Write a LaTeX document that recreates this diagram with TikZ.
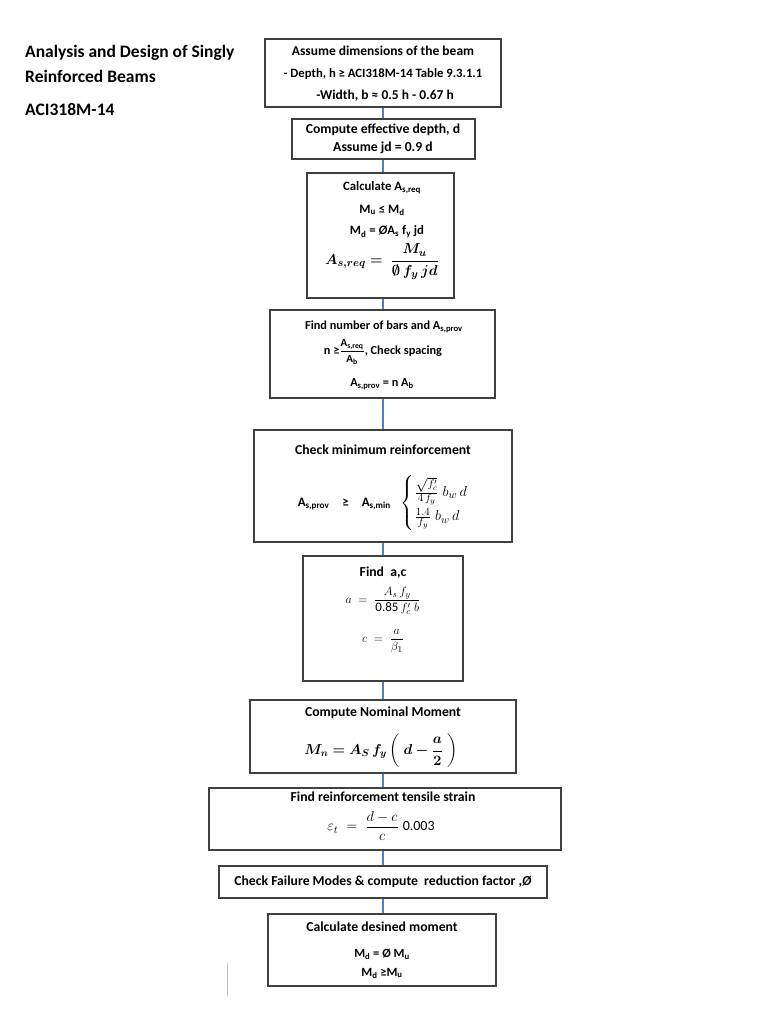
\documentclass[tikz,border=0pt]{standalone}
\usepackage{amsmath,amssymb,bm}
\usepackage[no-math]{fontspec}
\setmainfont{Carlito}
\definecolor{linkblue}{HTML}{4F81BD}
\definecolor{boxline}{HTML}{404040}
\newcommand{\fsz}[1]{\fontsize{#1}{#1}\selectfont}
\begin{document}
\begin{tikzpicture}[x=1pt,y=-1pt,
  box/.style={draw=boxline, line width=1.1pt, fill=white, inner sep=0pt},
  txt/.style={inner sep=0pt, anchor=center, font=\fsz{13.7}\bfseries},
  mth/.style={inner sep=0pt, anchor=center, font=\fsz{16}},
  ttl/.style={inner sep=0pt, anchor=west, font=\fsz{17.5}\bfseries},
  link/.style={draw=linkblue, line width=1.8pt},
  faint/.style={draw=black!25, line width=0.8pt}]
\useasboundingbox (0,0) rectangle (768,1024);
\coordinate (ax) at (383,0);

% title
\node[ttl] (title1) at (25,53) {Analysis and Design of Singly};
\node[ttl] (title2) at (25,76) {Reinforced Beams};
\node[ttl] (title3) at (25,110) {ACI318M-14};

% boxes
\node[box, minimum width=236pt, minimum height=68pt] (b1) at (383,73) {};
\node[box, minimum width=183pt, minimum height=40pt] (b2) at (383.5,139) {};
\node[box, minimum width=147pt, minimum height=125pt] (b3) at (380.5,235.5) {};
\node[box, minimum width=225pt, minimum height=88pt] (b4) at (382.5,354) {};
\node[box, minimum width=258pt, minimum height=112pt] (b5) at (383,486) {};
\node[box, minimum width=160pt, minimum height=125pt] (b6) at (383,618.5) {};
\node[box, minimum width=266pt, minimum height=73pt] (b7) at (383,736.5) {};
\node[box, minimum width=352pt, minimum height=62pt] (b8) at (385,819) {};
\node[box, minimum width=328pt, minimum height=32pt] (b9) at (383,882) {};
\node[box, minimum width=228pt, minimum height=72pt] (b10) at (382,950) {};

% connectors
\draw[link] (b1.south -| ax) -- (b2.north -| ax);
\draw[link] (b2.south -| ax) -- (b3.north -| ax);
\draw[link] (b3.south -| ax) -- (b4.north -| ax);
\draw[link] (b4.south -| ax) -- (b5.north -| ax);
\draw[link] (b5.south -| ax) -- (b6.north -| ax);
\draw[link] (b6.south -| ax) -- (b7.north -| ax);
\draw[link] (b7.south -| ax) -- (b8.north -| ax);
\draw[link] (b8.south -| ax) -- (b9.north -| ax);
\draw[link] (b9.south -| ax) -- (b10.north -| ax);

% box 1
\node[txt, font=\fsz{13.5}\bfseries] (t1a) at (383,51) {Assume dimensions of the beam};
\node[txt, font=\fsz{12.7}\bfseries] (t1b) at (383,74) {- Depth, h ≥ ACI318M-14 Table 9.3.1.1};
\node[txt, font=\fsz{13.5}\bfseries] (t1c) at (385,96) {-Width, b ≈ 0.5 h - 0.67 h};
% box 2
\node[txt] (t2a) at (383,130) {Compute effective depth, d};
\node[txt] (t2b) at (383,148) {Assume jd = 0.9 d};
% box 3
\node[txt, font=\fsz{12.8}\bfseries] (t3a) at (382,188) {Calculate A\textsubscript{s,req}};
\node[txt, font=\fsz{12.8}\bfseries] (t3b) at (382,210) {M\textsubscript{u} ≤ M\textsubscript{d}};
\node[txt, font=\fsz{12.8}\bfseries] (t3c) at (387,232) {M\textsubscript{d} = \textit{Ø}A\textsubscript{s} f\textsubscript{y} jd};
\node[mth, font=\fsz{15}] (t3d) at (382,262) {$\bm{A_{s,req} = \;\dfrac{M_u}{\emptyset\, f_y\, jd}}$};
% box 4
\node[txt, font=\fsz{12.3}\bfseries] (t4a) at (384,327) {Find number of bars and A\textsubscript{s,prov}};
\node[txt, font=\fsz{12.3}\bfseries] (t4b) at (383,352) {n ≥$\dfrac{\text{\fsz{11}\bfseries A\textsubscript{s,req}}}{\text{\fsz{11}\bfseries A\textsubscript{b}}}$, Check spacing};
\node[txt, font=\fsz{12.3}\bfseries] (t4c) at (382,384) {A\textsubscript{s,prov} = n A\textsubscript{b}};
% box 5
\node[txt] (t5a) at (383,450) {Check minimum reinforcement};
\node[txt, font=\fsz{13}\bfseries] (t5b) at (383,503) {A\textsubscript{s,prov}\quad ≥\quad A\textsubscript{s,min}\;\; {\fsz{15.5}$\left\{\begin{array}{@{}l@{}}
  \frac{\sqrt{f'_c}}{4\,f_y}\;b_w\,d\\[7pt]
  \frac{1.4}{f_y}\;b_w\,d
\end{array}\right.$}};
% box 6
\node[txt] (t6a) at (383,573) {Find\ \ a,c};
\node[mth, font=\fsz{13}] (t6b) at (383,601) {$a \;=\; \dfrac{A_s\, f_y}{\text{\mdseries 0.85}\, f'_c\; b}$};
\node[mth, font=\fsz{13}] (t6c) at (383,641) {$c \;=\; \dfrac{a}{\beta_1}$};
% box 7
\node[txt] (t7a) at (383,713) {Compute Nominal Moment};
\node[mth, font=\fsz{14}] (t7b) at (381,751) {$\bm{M_n = A_S\, f_y}\,\biggl(\;\bm{d - \dfrac{a}{2}}\;\biggr)$};
% box 8
\node[txt] (t8a) at (383,797) {Find reinforcement tensile strain};
\node[mth, font=\fsz{15}] (t8b) at (381,826) {$\varepsilon_t \;=\; \dfrac{d-c}{c}\;\text{\fsz{14}\mdseries 0.003}$};
% box 9
\node[txt] (t9) at (383,882) {Check Failure Modes \& compute\ \ reduction factor ,\textit{Ø}};
% box 10
\node[txt] (t10a) at (382,927) {Calculate desined moment};
\node[txt, font=\fsz{12.5}\bfseries] (t10b) at (382,954) {M\textsubscript{d} = Ø M\textsubscript{u}};
\node[txt, font=\fsz{12.5}\bfseries] (t10c) at (382,973) {M\textsubscript{d} ≥M\textsubscript{u}};

% faint mark at the lower left
\coordinate (fa) at (227,963);
\coordinate (fb) at (227,996);
\draw[faint] (fa) -- (fb);
\end{tikzpicture}
\end{document}
